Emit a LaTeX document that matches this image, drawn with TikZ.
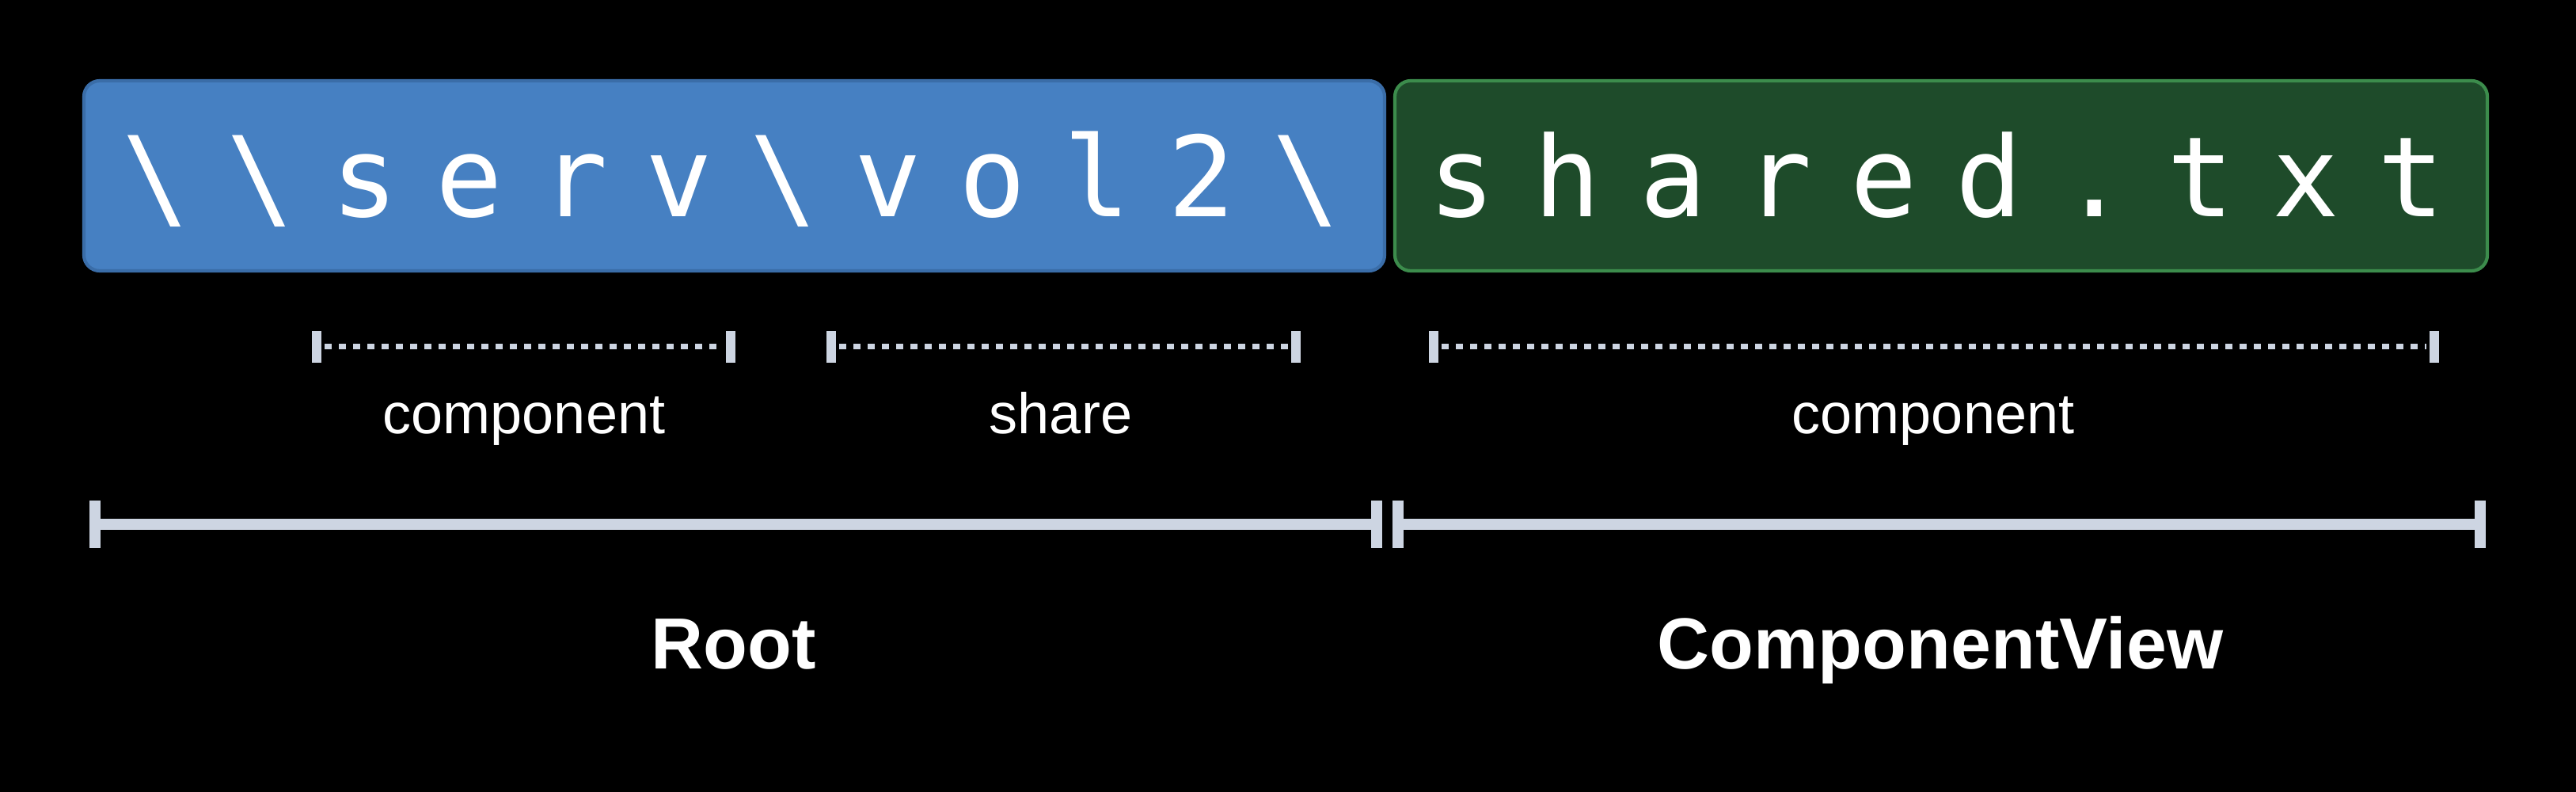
\documentclass[tikz,border=0pt]{standalone}
\usepackage{fontspec}
\setmainfont{Liberation Sans}
\newfontfamily\monof{DejaVu Sans Mono}
\definecolor{bgblue}{HTML}{4680C2}
\definecolor{bgblueb}{HTML}{3A6DA8}
\definecolor{bggreen}{HTML}{1E4B2A}
\definecolor{bggreenb}{HTML}{3C8C4C}
\definecolor{barc}{HTML}{CDD5E2}
\tikzset{
  pathbox/.style={rounded corners=0.2cm,line width=1.2pt},
  chr/.style={text=white,font=\monof\fontsize{40}{44}\selectfont,inner sep=0pt,anchor=base},
  tick/.style={barc,line width=1.2mm},
  solidbar/.style={barc,line width=4pt},
  lbl/.style={text=white,font=\fontsize{20.5}{24}\selectfont,anchor=base},
  biglbl/.style={text=white,font=\bfseries\fontsize{26}{30}\selectfont,anchor=base}
}
\begin{document}
\begin{tikzpicture}
\useasboundingbox[fill=black] (0,0) rectangle (32.54,-10);
\draw[pathbox,fill=bgblue,draw=bgblueb] (1.06,-1.02) rectangle (17.49,-3.42);
\draw[pathbox,fill=bggreen,draw=bggreenb] (17.62,-1.02) rectangle (31.42,-3.42);
\foreach \c [count=\i from 0] in {\textbackslash,\textbackslash,s,e,r,v,\textbackslash,v,o,l,2,\textbackslash}
  \node[chr] (b\i) at ({1.97+1.321*\i},-2.74) {\c};
\foreach \c [count=\i from 0] in {s,h,a,r,e,d,.,t,x,t}
  \node[chr] (g\i) at ({18.47+1.332*\i},-2.74) {\c};
% dotted brackets
\foreach \n/\a/\b in {d1/4.00/9.23, d2/10.50/16.37, d3/18.11/30.75}{
  \coordinate (\n l) at (\a,-4.38);
  \coordinate (\n r) at (\b,-4.38);
  \draw[line width=0.7mm,barc,dash pattern=on 0.9mm off 0.9mm] ([xshift=1mm]\n l) -- ([xshift=-1mm]\n r);
  \draw[tick] ([yshift=2mm]\n l) -- ([yshift=-2mm]\n l);
  \draw[tick] ([yshift=2mm]\n r) -- ([yshift=-2mm]\n r);
}
\node[lbl] (c1) at (6.62,-5.48) {component};
\node[lbl] (sh) at (13.40,-5.48) {share};
\node[lbl] (c2) at (24.42,-5.48) {component};
% solid brackets
\foreach \n/\a/\b in {s1/1.20/17.39, s2/17.66/31.33}{
  \coordinate (\n l) at (\a,-6.62);
  \coordinate (\n r) at (\b,-6.62);
  \draw[solidbar] (\n l) -- (\n r);
  \draw[solidbar] ([yshift=3mm]\n l) -- ([yshift=-3mm]\n l);
  \draw[solidbar] ([yshift=3mm]\n r) -- ([yshift=-3mm]\n r);
}
\node[biglbl] (root) at (9.27,-8.45) {Root};
\node[biglbl] (cv) at (24.51,-8.45) {ComponentView};
\end{tikzpicture}
\end{document}
